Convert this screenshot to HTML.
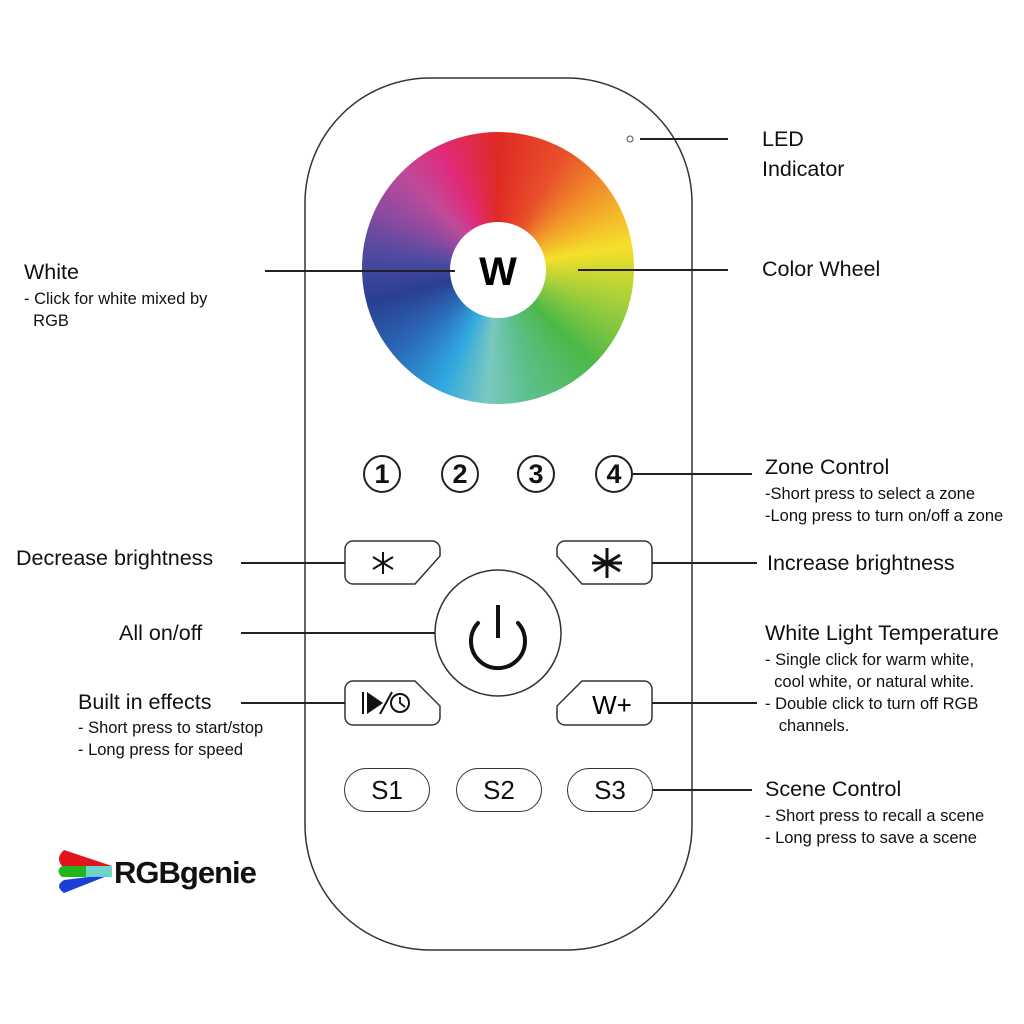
<!DOCTYPE html>
<html><head><meta charset="utf-8"><style>
body{margin:0;width:1024px;height:1024px;background:#fff;position:relative;overflow:hidden;font-family:"Liberation Sans",sans-serif;color:#111}
.t{position:absolute;font-size:21.5px;white-space:nowrap}
.s{position:absolute;font-size:16.5px;line-height:22px;white-space:nowrap}
.ln{position:absolute;height:2px;background:#222}
.z{position:absolute;width:38px;height:38px;border:2px solid #222;border-radius:50%;box-sizing:border-box;font-weight:bold;font-size:27px;text-align:center;line-height:34px}
.sb{position:absolute;width:86px;height:44px;border:1.5px solid #333;border-radius:22px;box-sizing:border-box;font-size:26px;text-align:center;line-height:42px}
</style></head><body>
<svg width="1024" height="1024" style="position:absolute;left:0;top:0">
<rect x="305" y="78" width="387" height="872" rx="125" fill="#fff" stroke="#333" stroke-width="1.5"/>
<circle cx="630" cy="139" r="3" fill="none" stroke="#555"/>
<foreignObject x="362" y="132" width="272" height="272"><div xmlns="http://www.w3.org/1999/xhtml" style="width:272px;height:272px;border-radius:50%;background:conic-gradient(#e02a24 0deg,#e8502a 30deg,#f29a2a 55deg,#f5e02a 80deg,#a8d03a 105deg,#4cb848 135deg,#5cbf8a 165deg,#79c8c0 185deg,#30a8e0 205deg,#2a6ab8 230deg,#2a3f90 255deg,#4a4aa0 275deg,#8a4aa0 295deg,#c04a9a 315deg,#e02a7a 335deg,#e02a24 360deg)"></div></foreignObject>
<circle cx="498" cy="270" r="48" fill="#fff"/>
<text x="498" y="285" font-family="Liberation Sans" font-weight="bold" font-size="40" text-anchor="middle">W</text>
<path d="M353 541 H432 a8 8 0 0 1 8 8 V556 L415 584 H353 a8 8 0 0 1 -8 -8 V549 a8 8 0 0 1 8 -8Z" fill="#fff" stroke="#333" stroke-width="1.5"/>
<path d="M644 541 H565 a8 8 0 0 0 -8 8 V556 L582 584 H644 a8 8 0 0 0 8 -8 V549 a8 8 0 0 0 -8 -8Z" fill="#fff" stroke="#333" stroke-width="1.5"/>
<g stroke="#111" stroke-width="2"><line x1="383" y1="552" x2="383" y2="574"/><line x1="373" y1="557" x2="393" y2="569"/><line x1="373" y1="569" x2="393" y2="557"/></g>
<g stroke="#111" stroke-width="3"><line x1="607" y1="548" x2="607" y2="578"/><line x1="594" y1="555" x2="620" y2="571"/><line x1="594" y1="571" x2="620" y2="555"/><line x1="592" y1="563" x2="622" y2="563"/></g>
<path d="M353 681 H415 L440 706 V717 a8 8 0 0 1 -8 8 H353 a8 8 0 0 1 -8 -8 V689 a8 8 0 0 1 8 -8Z" fill="#fff" stroke="#333" stroke-width="1.5"/>
<path d="M644 681 H582 L557 706 V717 a8 8 0 0 0 8 8 H644 a8 8 0 0 0 8 -8 V689 a8 8 0 0 0 -8 -8Z" fill="#fff" stroke="#333" stroke-width="1.5"/>
<line x1="363" y1="692" x2="363" y2="714" stroke="#111" stroke-width="2"/>
<path d="M367 692 L383 703 L367 714Z" fill="#111"/>
<line x1="380" y1="714" x2="392" y2="692" stroke="#111" stroke-width="2"/>
<circle cx="400" cy="703" r="9" fill="none" stroke="#111" stroke-width="2"/>
<path d="M400 697 V703 L405 707" fill="none" stroke="#111" stroke-width="1.8"/>
<text x="612" y="714" font-family="Liberation Sans" font-size="26" text-anchor="middle">W+</text>
<circle cx="498" cy="633" r="63" fill="#fff" stroke="#333" stroke-width="1.5"/>
<path d="M478 623 A27 27 0 1 0 518 623" fill="none" stroke="#111" stroke-width="4" stroke-linecap="round"/>
<line x1="498" y1="605" x2="498" y2="638" stroke="#111" stroke-width="4"/>
<!-- logo -->
<path d="M64 850 L112 866 L64 868 Q54 859 64 850Z" fill="#e3141c"/>
<path d="M62 866 L112 866 L112 877 L62 877 Q55 871 62 866Z" fill="#1fb61f"/>
<path d="M64 880 L112 874 L64 893 Q54 886 64 880Z" fill="#1a3fd6"/>
<path d="M86 866 L112 866 L112 877 L86 877Z" fill="#7fe0f0" opacity=".8"/>
<text x="114" y="883" font-family="Liberation Sans" font-size="31" font-weight="bold" fill="#111" letter-spacing="-1">RGBgenie</text>
</svg>
<div class="z" style="left:363px;top:455px">1</div>
<div class="z" style="left:441px;top:455px">2</div>
<div class="z" style="left:517px;top:455px">3</div>
<div class="z" style="left:595px;top:455px">4</div>
<div class="sb" style="left:344px;top:768px">S1</div>
<div class="sb" style="left:456px;top:768px">S2</div>
<div class="sb" style="left:567px;top:768px">S3</div>

<div class="ln" style="left:640px;top:138px;width:88px"></div>
<div class="ln" style="left:265px;top:270px;width:190px"></div>
<div class="ln" style="left:578px;top:269px;width:150px"></div>
<div class="ln" style="left:633px;top:473px;width:119px"></div>
<div class="ln" style="left:241px;top:562px;width:104px"></div>
<div class="ln" style="left:652px;top:562px;width:105px"></div>
<div class="ln" style="left:241px;top:632px;width:194px"></div>
<div class="ln" style="left:241px;top:702px;width:104px"></div>
<div class="ln" style="left:652px;top:702px;width:105px"></div>
<div class="ln" style="left:653px;top:789px;width:99px"></div>

<div class="t" style="left:762px;top:124px;line-height:30px">LED<br>Indicator</div>
<div class="t" style="left:24px;top:260px">White</div>
<div class="s" style="left:24px;top:288px">- Click for white mixed by<br>&nbsp;&nbsp;RGB</div>
<div class="t" style="left:762px;top:257px">Color Wheel</div>
<div class="t" style="left:765px;top:455px">Zone Control</div>
<div class="s" style="left:765px;top:483px">-Short press to select a zone<br>-Long press to turn on/off a zone</div>
<div class="t" style="left:16px;top:546px">Decrease brightness</div>
<div class="t" style="left:767px;top:551px">Increase brightness</div>
<div class="t" style="left:119px;top:621px">All on/off</div>
<div class="t" style="left:765px;top:621px">White Light Temperature</div>
<div class="s" style="left:765px;top:649px">- Single click for warm white,<br>&nbsp;&nbsp;cool white, or natural white.<br>- Double click to turn off RGB<br>&nbsp;&nbsp;&nbsp;channels.</div>
<div class="t" style="left:78px;top:690px">Built in effects</div>
<div class="s" style="left:78px;top:717px">- Short press to start/stop<br>- Long press for speed</div>
<div class="t" style="left:765px;top:777px">Scene Control</div>
<div class="s" style="left:765px;top:805px">- Short press to recall a scene<br>- Long press to save a scene</div>
</body></html>
